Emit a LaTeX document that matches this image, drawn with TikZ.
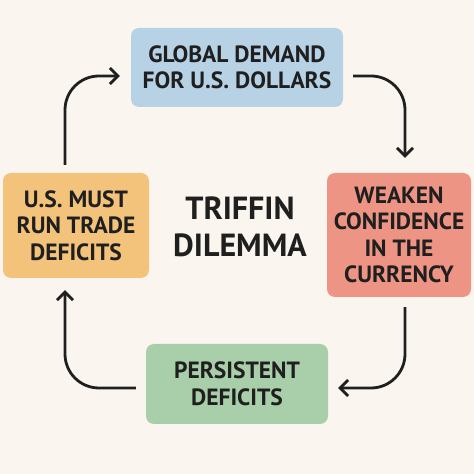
\documentclass[tikz,border=0pt]{standalone}
\usepackage{fontspec}
\setmainfont{PT Sans}
\usetikzlibrary{arrows.meta, positioning}
\definecolor{paper}{HTML}{FAF6EF}
\definecolor{demandblue}{HTML}{B6D2E4}
\definecolor{confsalmon}{HTML}{EE9484}
\definecolor{deficitorange}{HTML}{F3C27B}
\definecolor{persistgreen}{HTML}{A8CFA9}
\definecolor{inkdark}{HTML}{1F1F1F}

\begin{document}
\begin{tikzpicture}[x=1pt, y=1pt,
    stage/.style={rounded corners=8pt, align=center, inner sep=0pt,
      text=inkdark, font=\fontsize{23.5}{26.5}\selectfont\bfseries},
    flow/.style={draw=inkdark, line width=2.8pt, rounded corners=34pt,
      -{Straight Barb[length=8pt, width=16pt]}}]
  \fill[paper] (0,0) rectangle (474,474);
  \useasboundingbox (0,0) rectangle (474,474);

  % the four stages of the cycle
  \node[stage, fill=demandblue, minimum width=212pt, minimum height=79pt]
    (demand) at (237,406.5) {GLOBAL DEMAND\\FOR U.S. DOLLARS};
  \node[stage, fill=confsalmon, minimum width=144pt, minimum height=124pt]
    (confidence) at (399,239) {WEAKEN\\CONFIDENCE\\IN THE\\CURRENCY};
  \node[stage, fill=persistgreen, minimum width=182pt, minimum height=80pt]
    (persist) at (237,90) {PERSISTENT\\DEFICITS};
  \node[stage, fill=deficitorange, minimum width=146pt, minimum height=105pt]
    (deficit) at (76,248.5) {U.S. MUST\\RUN TRADE\\DEFICITS};

  \node[align=center, text=inkdark, font=\fontsize{32}{37}\selectfont\bfseries]
    (title) at (240,247) {TRIFFIN\\DILEMMA};

  % arrows round the loop
  \draw[flow] ([xshift=-11pt, yshift=8pt]deficit.north)
    |- ([xshift=-11pt, yshift=-8.5pt]demand.west);
  \draw[flow] ([xshift=10pt, yshift=-8.5pt]demand.east)
    -| ([xshift=6pt, yshift=15pt]confidence.north);
  \draw[flow] ([xshift=6pt, yshift=-10pt]confidence.south)
    |- ([xshift=10pt, yshift=-4pt]persist.east);
  \draw[flow] ([xshift=-10pt, yshift=-4pt]persist.west)
    -| ([xshift=-11pt, yshift=-12pt]deficit.south);
\end{tikzpicture}
\end{document}
